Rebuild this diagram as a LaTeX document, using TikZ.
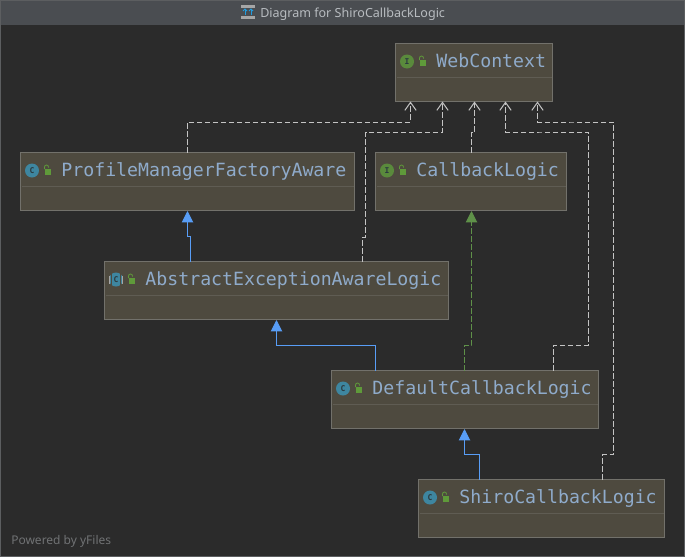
\documentclass[tikz,border=0pt]{standalone}
\usepackage{fontspec}
\newfontfamily\umlfont{DejaVu Sans Mono}
\newfontfamily\uifont{Noto Sans}
\usetikzlibrary{arrows.meta,calc}
\definecolor{canvas}{HTML}{2B2B2B}
\definecolor{titlebar}{HTML}{4A4D51}
\definecolor{frameline}{HTML}{5C5E60}
\definecolor{boxfill}{HTML}{4E4A3F}
\definecolor{boxline}{HTML}{72716B}
\definecolor{divline}{HTML}{5F5C53}
\definecolor{nametext}{HTML}{8FABCB}
\definecolor{classblue}{HTML}{3E86A0}
\definecolor{ifacegreen}{HTML}{5A8A3C}
\definecolor{lockgreen}{HTML}{5F9A3A}
\definecolor{inhblue}{HTML}{589DF6}
\definecolor{implgreen}{HTML}{5F9149}
\definecolor{deplight}{HTML}{C4C4C4}
\definecolor{icondark}{HTML}{2B3A40}
\definecolor{titletext}{HTML}{B8BCC0}
\definecolor{yfilestext}{HTML}{707274}
\tikzset{
  umlbox/.style={draw=boxline,fill=boxfill,line width=.85pt,inner sep=0pt,outer sep=0pt,anchor=north west},
  umlname/.style={anchor=base west,inner sep=0pt,text=nametext,font=\umlfont\fontsize{13.65pt}{15pt}\selectfont},
  dep/.style={draw=deplight,line width=.75pt,dash pattern=on 3.8pt off 2.2pt,-{Straight Barb[length=6pt,width=8.5pt,line width=.75pt]}},
  inh/.style={draw=inhblue,line width=.75pt,-{Triangle[length=8.5pt,width=8.5pt,fill=inhblue]}},
  impl/.style={draw=implgreen,line width=.75pt,dash pattern=on 3.8pt off 2.2pt,-{Triangle[length=8.5pt,width=8.5pt,fill=implgreen]}},
}
\newcommand{\umlclass}[8]{%
  % name, x, y, width, height, kind colour, letter, text
  \node[umlbox,minimum width=#4*.75pt,minimum height=#5*.75pt] (#1) at (#2,#3) {};
  \draw[divline,line width=.75pt] ($(#1.north west)+(1,34)$) -- ($(#1.north east)+(-1,34)$);
  \node[circle,fill=#6,minimum size=10.5pt,inner sep=0pt,text=icondark,font=\umlfont\bfseries\fontsize{6pt}{6pt}\selectfont] (#1-icon) at ($(#1.north west)+(11.5,18)$) {#7};
  \fill[lockgreen] ($(#1.north west)+(24,16)$) rectangle ($(#1.north west)+(30.5,22)$);
  \draw[lockgreen,line width=.6pt] ($(#1.north west)+(24,16.5)$) -- ++(0,-2) arc[start angle=180,end angle=0,radius=1.5pt] -- ++(0,.6);
  \node[umlname] (#1-name) at ($(#1.north west)+(40.7,24)$) {#8};
}
\begin{document}
\begin{tikzpicture}[x=.75pt,y=-.75pt]
\useasboundingbox (0,0) rectangle (685,557);
\fill[canvas] (0,0) rectangle (685,557);
\fill[titlebar] (0,0) rectangle (685,25);
\draw[frameline,line width=.75pt] (.5,.5) rectangle (684.5,556.5);
% title
\fill[gray!70] (241,5) rectangle (255,8);
\fill[gray!70] (241,16) rectangle (255,19);
\draw[cyan!80!blue!90!white,line width=.7pt] (245,15) -- (245,9) (251,15) -- (251,9);
\draw[cyan!80!blue!90!white,line width=.7pt] (243,11) -- (245,9) -- (247,11) (249,11) -- (251,9) -- (253,11);
\node[anchor=base west,inner sep=0pt,text=titletext,font=\uifont\fontsize{9.4pt}{11pt}\selectfont] (title) at (260,17) {Diagram for ShiroCallbackLogic};
\node[anchor=base west,inner sep=0pt,text=yfilestext,font=\uifont\fontsize{9pt}{10pt}\selectfont] (yfiles) at (11,544) {Powered by yFiles};
% classes
\umlclass{web}{395.5}{43.5}{157}{58}{ifacegreen}{I}{WebContext}
\umlclass{cb}{375.5}{152.5}{191}{58}{ifacegreen}{I}{CallbackLogic}
\umlclass{prof}{20.5}{152.5}{334}{58}{classblue}{C}{ProfileManagerFactoryAware}
\umlclass{abs}{104.5}{261.5}{344}{58}{classblue}{C}{AbstractExceptionAwareLogic}
\umlclass{def}{331.5}{370.5}{267}{58}{classblue}{C}{DefaultCallbackLogic}
\umlclass{shiro}{418.5}{479.5}{246}{58}{classblue}{C}{ShiroCallbackLogic}
% abstract marker
\draw[boxfill,line width=.8pt] ($(abs-icon.center)+(-4.8,-7)$) -- ++(0,14) ($(abs-icon.center)+(4.8,-7)$) -- ++(0,14);
\draw[gray!70,line width=.6pt] ($(abs-icon.center)+(-6.6,-4)$) -- ++(0,8) ($(abs-icon.center)+(6.6,-4)$) -- ++(0,8);
% dependencies
\draw[dep] ($(prof.north west)+(167,0)$) -- ++(0,-30.5) -| ($(web.south west)+(15,0)$);
\draw[dep] ($(abs.north west)+(258,0)$) -- ++(0,-24.5) -- ++(3,0) |- (408,132) -| ($(web.south west)+(47,0)$);
\draw[dep] ($(cb.north west)+(96,0)$) -- ++(0,-20.5) -- ++(3,0) -- ($(web.south west)+(79,0)$);
\draw[dep] ($(def.north west)+(222,0)$) -- ++(0,-25.5) -- ++(35,0) |- (540,132) -| ($(web.south west)+(110,0)$);
\draw[dep] ($(shiro.north west)+(184,0)$) -- ++(0,-25) -- ++(11,0) |- (570,122) -| ($(web.south west)+(142,0)$);
% inheritance
\draw[inh] ($(abs.north west)+(86,0)$) -- ++(0,-25) -- ++(-3,0) -- ($(prof.south west)+(167,.5)$);
\draw[inh] ($(def.north west)+(44,0)$) -- ++(0,-25) -| ($(abs.south west)+(172,.5)$);
\draw[inh] ($(shiro.north west)+(61,0)$) -- ++(0,-25) -| ($(def.south west)+(133,.5)$);
% realisation
\draw[impl] ($(def.north west)+(133,0)$) -- ++(0,-25) -- ++(7,0) -- ($(cb.south west)+(96,.5)$);
\end{tikzpicture}
\end{document}
